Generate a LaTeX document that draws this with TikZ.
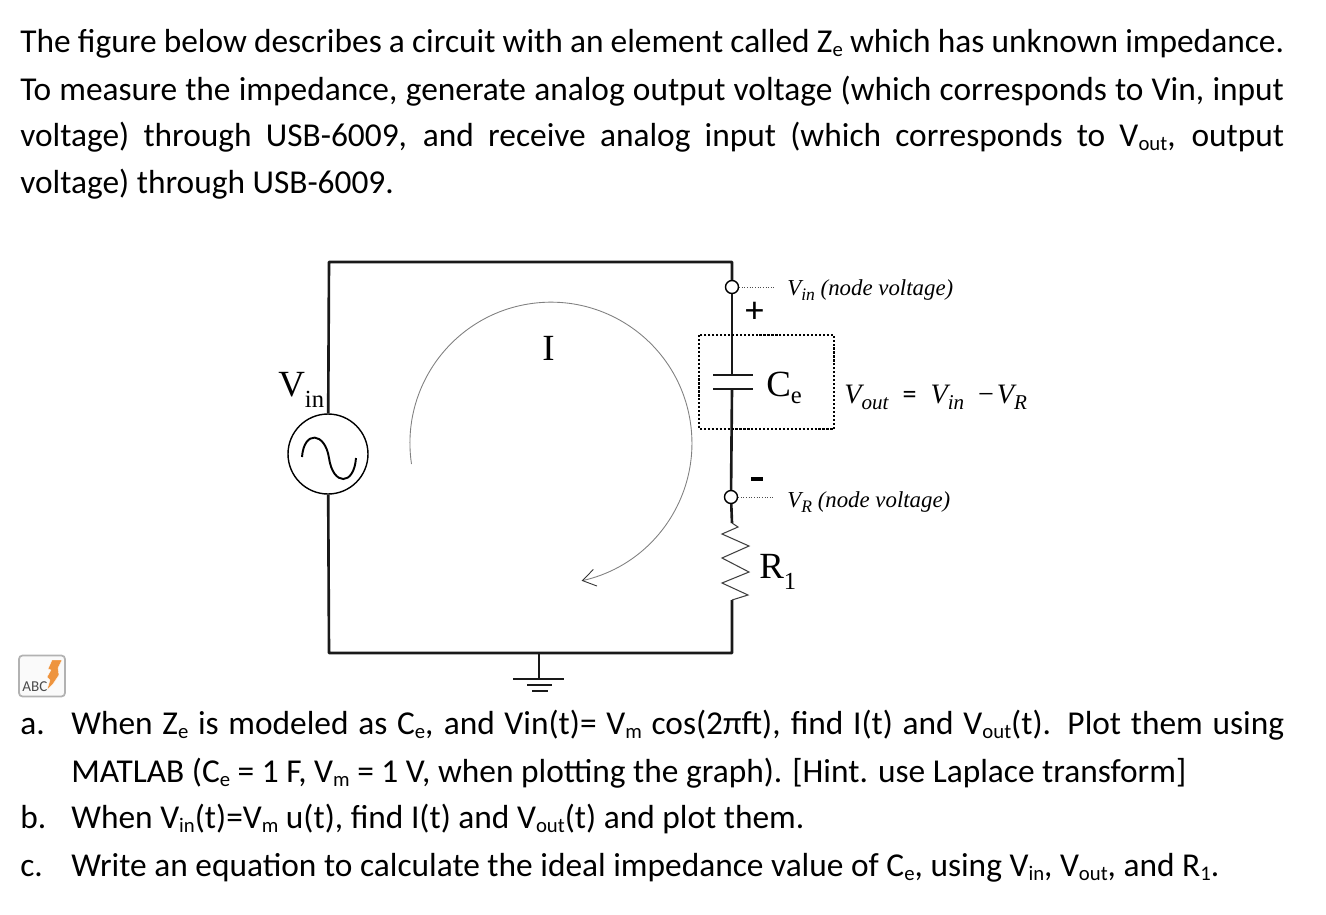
\documentclass[tikz,border=0pt]{standalone}
\usepackage{fontspec}
\setmainfont{Carlito}
\newfontfamily\figfont{Liberation Serif}
\usetikzlibrary{arrows.meta}
\definecolor{boltcol}{RGB}{238,148,62}
\tikzset{
  wire/.style={line width=1.5pt,black!90},
  thinwire/.style={line width=.6pt,black!75},
  dotwire/.style={line width=.5pt,densely dotted,black!70},
  terminal/.style={circle,draw,line width=.8pt,fill=white,minimum size=.26cm,inner sep=0pt},
  txt/.style={anchor=base west,inner sep=0pt,font=\fontsize{19}{21}\selectfont},
  figtxt/.style={anchor=base west,inner sep=0pt,font=\figfont\fontsize{21}{24}\selectfont},
  eqtxt/.style={anchor=base west,inner sep=0pt,font=\figfont\itshape\fontsize{13}{15}\selectfont},
  eqbig/.style={anchor=base west,inner sep=0pt,font=\figfont\itshape\fontsize{16}{18}\selectfont},
}
\newcommand{\lo}[1]{\raisebox{-.14em}{\fontsize{11.8}{14}\selectfont #1}}
\newcommand{\figlo}[2][.3em]{\raisebox{-#1}{\fontsize{14}{16}\selectfont #2}}
\newcommand{\eqlo}[1]{\raisebox{-.22em}{\fontsize{10}{12}\selectfont #1}}
\newcommand{\eqsub}[1]{\raisebox{-.22em}{\fontsize{12}{14}\selectfont #1}}
\newcommand{\fullw}[1]{\makebox[25.28cm][s]{#1}}
\newcommand{\itemw}[1]{\makebox[24.26cm][s]{#1}}
\begin{document}
\begin{tikzpicture}[x=.02cm,y=-.02cm]
\useasboundingbox (0,0) rectangle (1326,914);
% text above the figure
\node[txt] (topa) at (20,52) {\fullw{The figure below describes a circuit with an element called Z\lo{e} which has unknown impedance.}};
\node[txt] (topb) at (20,100) {\fullw{To measure the impedance, generate analog output voltage (which corresponds to Vin, input}};
\node[txt] (topc) at (20,146) {\fullw{voltage) through USB-6009, and receive analog input (which corresponds to V\lo{out}, output}};
\node[txt] (topd) at (20,193) {voltage) through USB-6009.};
% corners and parts
\coordinate (tl) at (329,262);
\coordinate (tr) at (732,262);
\coordinate (bl) at (329,653);
\coordinate (br) at (732,653);
\coordinate (capa) at (732,375);
\coordinate (capb) at (732,389);
\coordinate (rtop) at (732,523);
\coordinate (rbot) at (732,600);
\coordinate (gnd) at (539,653);
\coordinate (gndb) at (539,679);
\node[circle,draw,line width=.8pt,minimum size=1.6cm,inner sep=0pt] (src) at (328,454) {};
\node[terminal] (nin) at (732,287) {};
\node[terminal] (nr) at (731,497) {};
\coordinate (nine) at (775,287);
\coordinate (nre) at (775,497);
% wires
\draw[wire,line join=round] (src) -- (tl) -- (tr) -- (nin);
\draw[wire,line join=round] (src) -- (bl) -- (br) -- (rbot);
\draw[wire] (nin) -- (capa);
\draw[wire] (capb) -- (nr);
\draw[wire] (nr) -- (rtop);
\draw[wire] (gnd) -- (gndb);
\draw[dotwire] (nin) -- (nine);
\draw[dotwire] (nr) -- (nre);
% capacitor, ground, resistor
\draw[wire] (713,375) -- (753,375);
\draw[wire] (713,389) -- (753,389);
\draw[wire] (513,679) -- (564,679);
\draw[wire] (527,685) -- (552,685);
\draw[wire] (532,691) -- (548,691);
\draw[thinwire] (rtop) -- (738,527) -- (722,534) -- (749,546) -- (722,558) -- (749,572) -- (722,583) -- (748,595) -- (rbot);
% source wave
\draw[line width=1.1pt] (302,457) .. controls (304,430) and (325,432) .. (329,458) .. controls (333,486) and (354,486) .. (356,458);
% dotted box
\draw[line width=1.25pt,densely dotted] (699,335) rectangle (834,429);
% loop current
\draw[line width=.5pt,black!50,-{Straight Barb[length=.26cm,width=.34cm,black!80]}] (411.5,464) arc (171.5:437.4:141);
% figure labels
\node[figtxt] (lvin) at (278,396) {V\figlo{in}};
\node[figtxt] (li) at (542,360) {I};
\node[figtxt] (lce) at (766,396) {C\figlo[.2em]{e}};
\node[figtxt] (lrone) at (759,578) {R\figlo{1}};
\node[txt,font=\fontsize{21}{23}\selectfont] (lplus) at (745,322) {+};
\node[fill=black,minimum width=.25cm,minimum height=.07cm,inner sep=0pt] (lminus) at (757,479) {};
\node[eqtxt] (lnin) at (787,295) {V\eqlo{in} (node voltage)};
\node[eqtxt] (lnr) at (787,507) {V\eqlo{R} (node voltage)};
\node[eqbig] (lvout) at (844,403) {V\eqsub{out}\hspace{.5em}{\normalfont=}\hspace{.5em}V\eqsub{in}\hspace{.5em}{\normalfont\figfont−}\hspace{.1em}V\eqsub{R}};
% spell check icon
\node[draw=black!30,line width=1pt,rounded corners=2pt,fill=black!2,minimum width=.92cm,minimum height=.82cm,inner sep=0pt] (abcbox) at (42,676) {};
\node[anchor=base west,inner sep=0pt,text=black!70,font=\fontsize{8.6}{10}\selectfont] (abc) at (22,691) {ABC};
\fill[boltcol,draw=white,line width=.2pt] (52,660) -- (62,660) -- (58,668) -- (59,675) -- (53,684) -- (47,690) -- (50,680) -- (47,677) -- (51,670) -- (48,669) -- cycle;
% questions
\node[txt] (qa) at (20,734) {a.};
\node[txt] (qat) at (71,734) {\itemw{When Z\lo{e} is modeled as C\lo{e}, and Vin(t)= V\lo{m} cos(2πft), find I(t) and V\lo{out}(t). Plot them using}};
\node[txt] (qab) at (71,782) {MATLAB (C\lo{e} = 1 F, V\lo{m} = 1 V, when plotting the graph). [Hint. use Laplace transform]};
\node[txt] (qb) at (20,828) {b.};
\node[txt] (qbt) at (71,828) {When V\lo{in}(t)=V\lo{m} u(t), find I(t) and V\lo{out}(t) and plot them.};
\node[txt] (qc) at (20,876) {c.};
\node[txt] (qct) at (71,876) {Write an equation to calculate the ideal impedance value of C\lo{e}, using V\lo{in}, V\lo{out}, and R\lo{1}.};
\end{tikzpicture}
\end{document}
